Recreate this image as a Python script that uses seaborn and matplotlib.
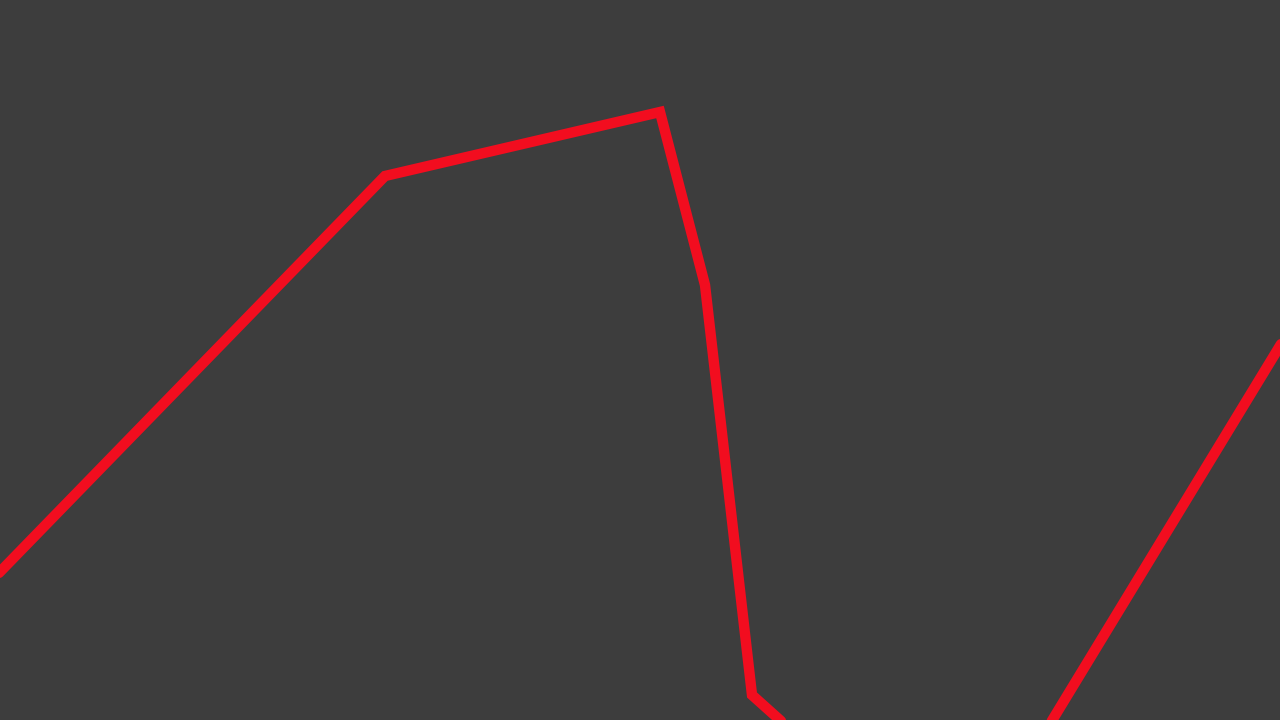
import matplotlib
matplotlib.use("Agg")
import matplotlib.pyplot as plt
import pandas as pd
import seaborn as sns

# Path of the red line (x to the right, y upwards)
x_vals = [-40, 385, 660, 705, 752, 830, 1025, 1320]
y_vals = [107, 544, 608, 435, 25, -45, -45, 440]

bg_color = "#3d3d3d"
line_color = "#f20d1f"

df = pd.DataFrame({"x": x_vals, "y": y_vals})

sns.set_theme(style="white")
fig = plt.figure(figsize=(12.8, 7.2), dpi=100)
fig.patch.set_facecolor(bg_color)
ax = fig.add_axes([0, 0, 1, 1])
ax.set_facecolor(bg_color)

sns.lineplot(data=df, x="x", y="y", sort=False, color=line_color,
             linewidth=7.5, ax=ax)
for line in ax.lines:
    line.set_solid_joinstyle("miter")

ax.set_xlim(0, 1280)
ax.set_ylim(0, 720)
ax.axis("off")

fig.savefig("out.png", dpi=100, facecolor=bg_color)
